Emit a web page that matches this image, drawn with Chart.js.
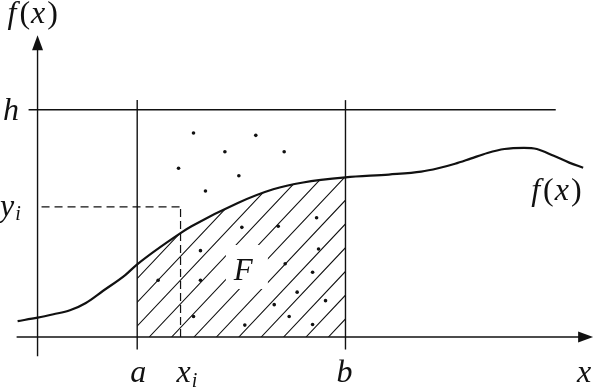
<!DOCTYPE html>
<html><head><meta charset="utf-8">
<script src="https://cdn.jsdelivr.net/npm/chart.js@4"></script>
<style>html,body{margin:0;padding:0;background:#fff;}</style>
</head><body>
<canvas id="c" width="600" height="389"></canvas>
<script>
// ---- data (arbitrary units) ----
const curveX = [-0.40, 0.00, 0.32, 0.65, 0.97, 1.31, 1.76, 2.00, 2.87, 3.09, 4.02, 4.73, 5.33, 6.18, 7.05, 7.70, 8.04, 8.38, 8.69, 9.03, 9.37, 9.76, 10.02, 10.36, 10.67, 10.95];
const curveY = [0.28, 0.34, 0.40, 0.47, 0.60, 0.81, 1.09, 1.28, 1.83, 1.95, 2.36, 2.60, 2.72, 2.81, 2.86, 2.91, 2.97, 3.05, 3.14, 3.24, 3.31, 3.33, 3.31, 3.19, 3.07, 2.98];
const dotsX = [3.13, 4.38, 3.76, 4.95, 2.83, 4.04, 3.37,
               4.10, 4.83, 5.60, 5.64, 3.27, 4.97, 2.42, 3.27, 5.52, 5.21, 5.78, 4.75, 3.13, 5.05, 4.16, 5.52];
const dotsY = [3.59, 3.55, 3.26, 3.26, 2.97, 2.84, 2.57,
               1.93, 1.95, 2.10, 1.55, 1.52, 1.29, 1.00, 1.00, 1.14, 0.79, 0.64, 0.57, 0.36, 0.36, 0.21, 0.22];
const aVal = 2.00, bVal = 6.18, xiVal = 2.87, yiVal = 2.29, hVal = 4.00;
const xAxisSpan = [-0.42, 11.15];
const yAxisSpan = [-0.34, 5.31];
const hSpan = [-0.18, 10.40];
const vSpan = [-0.22, 4.17];
const tickLabels = ['a', 'x', 'b', 'x'];

const INK = '#111';
const SERIF = '"Liberation Serif", "DejaVu Serif", serif';

function seg(x1, y1, x2, y2, extra) {
  return Object.assign({
    data: [{x: x1, y: y1}, {x: x2, y: y2}],
    borderColor: INK, borderWidth: 1.4, pointRadius: 0, fill: false, tension: 0
  }, extra || {});
}

function runs(ctx, x, y, parts) {
  let cx = x;
  for (const p of parts) {
    ctx.font = (p.it ? 'italic ' : '') + p.s + 'px ' + SERIF;
    ctx.fillText(p.t, cx, y + (p.dy || 0));
    cx += ctx.measureText(p.t).width + (p.k || 0);
  }
}
function fx(ctx, x, y, s) {
  runs(ctx, x, y, [{t:'f', it:true, s:s, k:3}, {t:'(', s:s, k:1}, {t:'x', it:true, s:s, k:2}, {t:')', s:s}]);
}

const hatchPlugin = {
  id: 'hatch',
  beforeDatasetsDraw(chart) {
    const ctx = chart.ctx, xs = chart.scales.x, ys = chart.scales.y;
    const line = chart.getDatasetMeta(0).dataset;
    const pts = chart.getDatasetMeta(0).data;
    const xa = xs.getPixelForValue(aVal), xb = xs.getPixelForValue(bVal), y0 = ys.getPixelForValue(0);
    ctx.save();
    ctx.beginPath();
    ctx.rect(xa, 0, xb - xa, y0);
    ctx.clip();
    ctx.beginPath();
    line.path(ctx);
    ctx.lineTo(pts[pts.length - 1].x, y0);
    ctx.lineTo(pts[0].x, y0);
    ctx.closePath();
    ctx.clip();
    ctx.strokeStyle = INK;
    ctx.lineWidth = 1.1;
    const step = 22.4, slope = 1.06;
    ctx.beginPath();
    for (let k = -12; k < 20; k++) {
      const bx = xa + 12 + k * step;
      ctx.moveTo(bx, y0);
      ctx.lineTo(bx + 400, y0 - 400 * slope);
    }
    ctx.stroke();
    ctx.restore();
    // gap in hatching around label F
    ctx.save();
    ctx.fillStyle = '#fff';
    ctx.fillRect(xs.getPixelForValue(3.78), ys.getPixelForValue(1.62), 42, 44);
    ctx.restore();
  },
  afterDatasetsDraw(chart) {
    const ctx = chart.ctx, xs = chart.scales.x, ys = chart.scales.y;
    ctx.save();
    ctx.fillStyle = INK;
    // arrowheads
    const xt = xs.getPixelForValue(xAxisSpan[1]), y0 = ys.getPixelForValue(0);
    ctx.beginPath(); ctx.moveTo(xt, y0); ctx.lineTo(xt - 15, y0 - 5.5); ctx.lineTo(xt - 15, y0 + 5.5); ctx.closePath(); ctx.fill();
    const x0 = xs.getPixelForValue(0), yt = ys.getPixelForValue(yAxisSpan[1]);
    ctx.beginPath(); ctx.moveTo(x0, yt); ctx.lineTo(x0 - 5.5, yt + 15); ctx.lineTo(x0 + 5.5, yt + 15); ctx.closePath(); ctx.fill();
    // text
    ctx.textBaseline = 'alphabetic';
    ctx.textAlign = 'left';
    fx(ctx, x0 - 30, 23, 32);
    runs(ctx, 3, ys.getPixelForValue(hVal) + 10, [{t:'h', it:true, s:32}]);
    runs(ctx, 0, ys.getPixelForValue(yiVal) + 9, [{t:'y', it:true, s:32, k:1}, {t:'i', it:true, s:20, dy:4}]);
    const base = 382;
    ctx.font = 'italic 32px ' + SERIF;
    ctx.textAlign = 'center';
    ctx.fillText(tickLabels[0], xs.getPixelForValue(aVal) + 1, base);
    ctx.fillText(tickLabels[2], xs.getPixelForValue(bVal) - 1, base);
    ctx.textAlign = 'left';
    runs(ctx, xs.getPixelForValue(xiVal) - 4, base, [{t:tickLabels[1], it:true, s:32, k:1}, {t:'i', it:true, s:20, dy:5}]);
    runs(ctx, xs.getPixelForValue(xAxisSpan[1]) - 16, base, [{t:tickLabels[3], it:true, s:32}]);
    fx(ctx, xs.getPixelForValue(curveX[curveX.length - 1]) - 52, 200, 32);
    runs(ctx, xs.getPixelForValue(3.94), ys.getPixelForValue(1.0), [{t:'F', it:true, s:31}]);
    ctx.restore();
  }
};

new Chart(document.getElementById('c'), {
  type: 'line',
  data: {
    datasets: [
      {data: curveX.map((x, i) => ({x, y: curveY[i]})), borderColor: INK, borderWidth: 2.2,
       pointRadius: 0, fill: false, cubicInterpolationMode: 'monotone'},
      seg(xAxisSpan[0], 0, xAxisSpan[1] - 0.25, 0),
      seg(0, yAxisSpan[0], 0, yAxisSpan[1] - 0.2),
      seg(hSpan[0], hVal, hSpan[1], hVal),
      seg(aVal, vSpan[0], aVal, vSpan[1]),
      seg(bVal, vSpan[0], bVal, vSpan[1]),
      seg(xiVal, 0, xiVal, yiVal, {borderDash: [8, 4], borderWidth: 1.2}),
      seg(0, yiVal, xiVal, yiVal, {borderDash: [8, 5], borderWidth: 1.2, borderDashOffset: -4}),
      {data: dotsX.map((x, i) => ({x, y: dotsY[i]})), showLine: false, pointRadius: 1.8,
       pointBackgroundColor: INK, pointBorderWidth: 0, borderColor: INK}
    ]
  },
  options: {
    responsive: false, animation: false, devicePixelRatio: 1,
    layout: {padding: 0},
    plugins: {legend: {display: false}, tooltip: {enabled: false}},
    events: [],
    scales: {
      x: {type: 'linear', display: false, min: -0.6733, max: 11.2079},
      y: {type: 'linear', display: false, min: -0.8448, max: 5.8621}
    }
  },
  plugins: [hatchPlugin]
});
</script>
</body></html>
